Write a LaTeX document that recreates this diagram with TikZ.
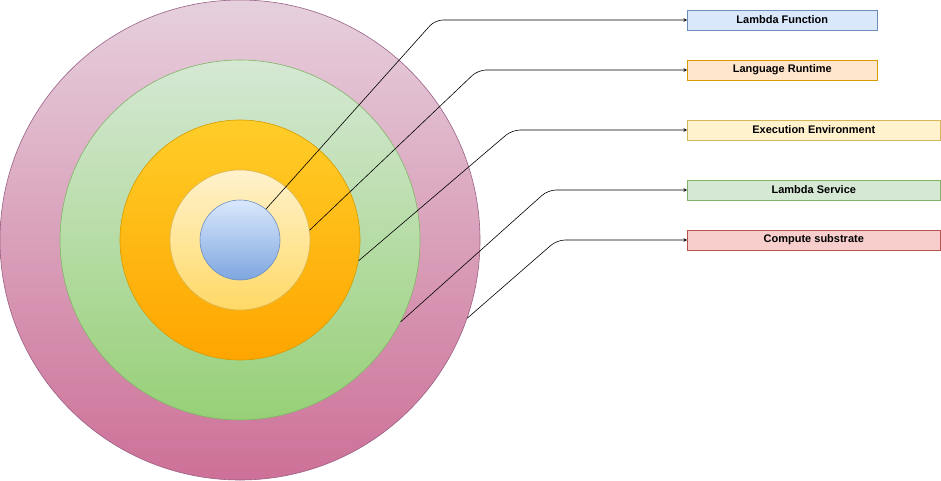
\documentclass[tikz,border=0pt]{standalone}
\usepackage{fontspec}
\setmainfont{Liberation Sans}
\begin{document}
\begin{tikzpicture}[x=1pt,y=-1pt,
  ring/.style={circle,inner sep=0pt,line width=0.6pt},
  lbl/.style={draw,line width=0.6pt,minimum height=20pt,inner sep=0pt,anchor=west,font=\bfseries\fontsize{11}{12}\selectfont},
  conn/.style={-stealth,line width=0.6pt,rounded corners=8pt}]
\definecolor{o1}{HTML}{E6D0DE}\definecolor{o2}{HTML}{CD7097}\definecolor{ob}{HTML}{996185}
\definecolor{g1}{HTML}{D5E8D4}\definecolor{g2}{HTML}{97D077}\definecolor{gb}{HTML}{82B366}
\definecolor{r1}{HTML}{FFCD28}\definecolor{r2}{HTML}{FFA500}\definecolor{rb}{HTML}{D79B00}
\definecolor{y1}{HTML}{FFF2CC}\definecolor{y2}{HTML}{FFD966}\definecolor{yb}{HTML}{D6B656}
\definecolor{b1}{HTML}{DAE8FC}\definecolor{b2}{HTML}{7EA6E0}\definecolor{bb}{HTML}{6C8EBF}
\definecolor{lo}{HTML}{FFE6CC}\definecolor{pk}{HTML}{F8CECC}\definecolor{pkb}{HTML}{B85450}
\useasboundingbox (0,0) rectangle (941,481);
\node[ring,minimum size=480pt,draw=ob,top color=o1,bottom color=o2] (outer) at (240,240) {};
\node[ring,minimum size=360pt,draw=gb,top color=g1,bottom color=g2] (green) at (240,240) {};
\node[ring,minimum size=240pt,draw=rb,top color=r1,bottom color=r2] (orange) at (240,240) {};
\node[ring,minimum size=140pt,draw=yb,top color=y1,bottom color=y2] (yellow) at (240,240) {};
\node[ring,minimum size=80pt,draw=bb,top color=b1,bottom color=b2] (blue) at (240,240) {};
\node[lbl,fill=b1,draw=bb,minimum width=190pt] (lf) at (687,20) {Lambda Function};
\node[lbl,fill=lo,draw=rb,minimum width=190pt] (lr) at (687,70) {Language Runtime};
\node[lbl,fill=y1,draw=yb,minimum width=253pt] (ee) at (687,130) {Execution Environment};
\node[lbl,fill=g1,draw=gb,minimum width=253pt] (ls) at (687,190) {Lambda Service};
\node[lbl,fill=pk,draw=pkb,minimum width=253pt] (cs) at (687,240) {Compute substrate};
\draw[conn] (blue.50) -- (435,20) -- (lf.west);
\draw[conn] (yellow.8) -- (478,70) -- (lr.west);
\draw[conn] (orange.-10) -- (512,130) -- (ee.west);
\draw[conn] (green.-27) -- (548,190) -- (ls.west);
\draw[conn] (outer.-19) -- (557,240) -- (cs.west);
\end{tikzpicture}
\end{document}
